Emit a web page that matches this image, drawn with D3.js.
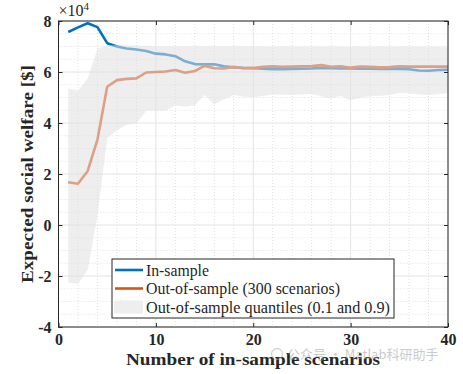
<!DOCTYPE html>
<html><head><meta charset="utf-8">
<script src="https://cdn.jsdelivr.net/npm/d3@7/dist/d3.min.js"></script>
<style>body{margin:0;background:#fff}svg{display:block}</style>
</head><body><svg id="c" width="463" height="374"></svg>
<script>
// Data (values in units of 1e4 $)
const scenarios = d3.range(1, 41);
const inSample = [7.57,7.75,7.91,7.76,7.13,7.00,6.92,6.88,6.82,6.72,6.69,6.62,6.42,6.31,6.30,6.30,6.22,6.18,6.16,6.15,
                  6.13,6.11,6.11,6.12,6.13,6.14,6.16,6.15,6.14,6.14,6.13,6.13,6.12,6.12,6.12,6.11,6.06,6.05,6.08,6.09];
const outSample = [1.68,1.62,2.12,3.35,5.42,5.68,5.73,5.75,5.98,6.00,6.02,6.08,5.97,6.04,6.24,6.15,6.14,6.20,6.15,6.16,
                   6.20,6.22,6.20,6.21,6.22,6.23,6.27,6.20,6.22,6.17,6.21,6.20,6.18,6.19,6.22,6.21,6.21,6.21,6.21,6.21];
const q10 = [-2.25,-2.30,-1.75,0.35,3.40,3.72,3.92,3.99,4.48,4.48,4.48,4.70,4.64,4.70,5.10,4.74,4.93,5.10,5.03,5.01,
             5.06,5.12,5.12,5.10,5.12,5.14,5.05,4.95,5.07,4.88,5.00,5.06,5.07,5.10,5.19,5.17,5.13,5.10,5.14,5.17];
const q90 = [5.36,5.26,5.75,6.90,7.05,7.05,7.04,7.03,7.02,7.01,7.00,7.00,7.00,7.00,7.00,7.00,7.00,7.00,7.00,7.00,
             6.99,6.99,6.99,6.99,6.99,6.99,6.99,6.99,6.99,6.99,6.99,6.99,6.99,6.99,6.99,6.99,6.99,6.99,6.99,6.99];
const xTicks = [0, 10, 20, 30, 40];
const yTicks = [-4, -2, 0, 2, 4, 6, 8];
const legendLabels = ["In-sample", "Out-of-sample (300 scenarios)", "Out-of-sample quantiles (0.1 and 0.9)"];
const colors = {inS: "#0072BD", outS: "#D95319", band: "#e0e0e0"};

const svg = d3.select("#c");
const L = 58.5, R = 448, T = 21, B = 327;
const x = d3.scaleLinear().domain([0, 40]).range([L, R]);
const y = d3.scaleLinear().domain([-4, 8]).range([B, T]);
const serif = "'Liberation Serif', 'DejaVu Serif', serif";

// grid
const g = svg.append("g");
const xMinor = d3.range(0, 40.01, 2).filter(v => !xTicks.includes(v));
const yMinor = d3.range(-4, 8.01, 0.5).filter(v => !yTicks.includes(v));
g.selectAll(".xm").data(xMinor).join("line")
  .attr("x1", d => x(d)).attr("x2", d => x(d)).attr("y1", T).attr("y2", B)
  .attr("stroke", "#d2d2d2").attr("stroke-width", 0.7).attr("stroke-dasharray", "1,2");
g.selectAll(".ym").data(yMinor).join("line")
  .attr("y1", d => y(d)).attr("y2", d => y(d)).attr("x1", L).attr("x2", R)
  .attr("stroke", "#d2d2d2").attr("stroke-width", 0.7).attr("stroke-dasharray", "1,2");
g.selectAll(".xg").data(xTicks).join("line")
  .attr("x1", d => x(d)).attr("x2", d => x(d)).attr("y1", T).attr("y2", B)
  .attr("stroke", "#e4e4e4").attr("stroke-width", 1);
g.selectAll(".yg").data(yTicks).join("line")
  .attr("y1", d => y(d)).attr("y2", d => y(d)).attr("x1", L).attr("x2", R)
  .attr("stroke", "#e4e4e4").attr("stroke-width", 1);

// lines
const line = d3.line().x((d, i) => x(scenarios[i])).y(d => y(d));
svg.append("path").datum(inSample).attr("d", line)
  .attr("fill", "none").attr("stroke", colors.inS).attr("stroke-width", 2.6).attr("stroke-linejoin", "round");
svg.append("path").datum(outSample).attr("d", line)
  .attr("fill", "none").attr("stroke", colors.outS).attr("stroke-width", 2.6).attr("stroke-linejoin", "round");

// quantile band on top, semi-transparent
const area = d3.area().x((d, i) => x(scenarios[i])).y0((d, i) => y(q10[i])).y1((d, i) => y(q90[i]));
svg.append("path").datum(q10).attr("d", area).attr("fill", colors.band).attr("fill-opacity", 0.55);

// axes
const axCol = "#262626";
const ax = svg.append("g");
ax.append("rect").attr("x", L).attr("y", T).attr("width", R - L).attr("height", B - T)
  .attr("fill", "none").attr("stroke", axCol).attr("stroke-width", 1);
const xa = ax.append("g").attr("transform", `translate(0,${B})`)
  .call(d3.axisBottom(x).tickValues(xTicks).tickSize(-4).tickPadding(7).tickFormat(d3.format("d")));
const xt = ax.append("g").attr("transform", `translate(0,${T})`)
  .call(d3.axisTop(x).tickValues(xTicks).tickSize(-4).tickFormat(""));
const ya = ax.append("g").attr("transform", `translate(${L},0)`)
  .call(d3.axisLeft(y).tickValues(yTicks).tickSize(-4).tickPadding(7).tickFormat(d => d < 0 ? "-" + Math.abs(d) : d));
const yr = ax.append("g").attr("transform", `translate(${R},0)`)
  .call(d3.axisRight(y).tickValues(yTicks).tickSize(-4).tickFormat(""));
[xa, xt, ya, yr].forEach(a => {
  a.select(".domain").remove();
  a.selectAll(".tick line").attr("stroke", axCol);
  a.selectAll("text").attr("fill", axCol).style("font-family", serif)
    .style("font-size", "16px").style("font-weight", "bold");
});
xa.selectAll("text").attr("dy", "0.71em");

// exponent
const ex = svg.append("text").attr("x", L).attr("y", 16).attr("fill", axCol)
  .style("font-family", serif).style("font-size", "16px");
ex.append("tspan").text("×10");
ex.append("tspan").attr("dy", -6).style("font-size", "11px").text("4");

// axis labels
svg.append("text").attr("x", 253).attr("y", 365).attr("text-anchor", "middle")
  .attr("textLength", 254).attr("lengthAdjust", "spacingAndGlyphs")
  .attr("fill", axCol).style("font-family", serif).style("font-size", "17px").style("font-weight", "bold")
  .text("Number of in-sample scenarios");
svg.append("text").attr("transform", `translate(33,174) rotate(-90)`).attr("text-anchor", "middle")
  .attr("textLength", 218).attr("lengthAdjust", "spacingAndGlyphs")
  .attr("fill", axCol).style("font-family", serif).style("font-size", "17.5px").style("font-weight", "bold")
  .text("Expected social welfare [$]");

// legend
const lg = svg.append("g");
lg.append("rect").attr("x", 112).attr("y", 259).attr("width", 282).attr("height", 59)
  .attr("fill", "#fff").attr("stroke", axCol).attr("stroke-width", 1);
const rows = [270, 288.5, 307];
const widths = [63, 194, 244];
lg.append("line").attr("x1", 115).attr("x2", 143).attr("y1", rows[0]).attr("y2", rows[0])
  .attr("stroke", colors.inS).attr("stroke-width", 2.6);
lg.append("line").attr("x1", 115).attr("x2", 143).attr("y1", rows[1]).attr("y2", rows[1])
  .attr("stroke", colors.outS).attr("stroke-width", 2.6);
lg.append("rect").attr("x", 114).attr("y", rows[2] - 6.5).attr("width", 29).attr("height", 13)
  .attr("fill", colors.band).attr("fill-opacity", 0.55);
lg.selectAll("text.l").data(legendLabels).join("text").attr("class", "l")
  .attr("x", 146).attr("y", (d, i) => rows[i]).attr("dy", "0.35em")
  .attr("textLength", (d, i) => widths[i]).attr("lengthAdjust", "spacingAndGlyphs")
  .attr("fill", axCol).style("font-family", serif).style("font-size", "16.5px").text(d => d);

// watermark
const wm = svg.append("g").attr("opacity", 0.5);
wm.append("circle").attr("cx", 277).attr("cy", 354).attr("r", 5.5).attr("fill", "none").attr("stroke", "#aaa").attr("stroke-width", 1.3);
wm.append("text").attr("x", 287).attr("y", 359).attr("fill", "#999")
  .style("font-family", "'Noto Sans CJK SC', 'Noto Sans', sans-serif").style("font-size", "13px")
  .text("公众号 · Matlab科研助手");
</script></body></html>
